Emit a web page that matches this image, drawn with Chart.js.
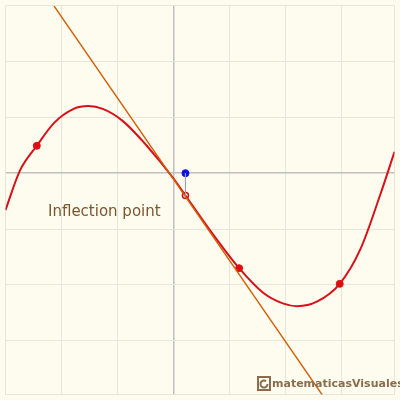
<!DOCTYPE html><html><head><script src="https://cdn.jsdelivr.net/npm/chart.js@4"></script>
<style>html,body{margin:0;background:#fdfcee}#w{width:400px;height:400px}</style></head><body><div id="w"><canvas id="c"></canvas></div>
<script>
const curveX=[-3.01,-2.75,-2.45,-2.14,-1.79,-1.53,-1.27,-0.92,-0.49,0,0.21,0.64,1.17,1.60,1.95,2.21,2.56,2.97,3.34,3.69,3.95];
const curveY=[-0.66,0.05,0.49,0.90,1.15,1.20,1.15,0.94,0.50,-0.10,-0.40,-1.01,-1.70,-2.14,-2.33,-2.38,-2.30,-1.98,-1.36,-0.40,0.38];
const tangentX=[-2.14,2.66], tangentY=[2.99,-3.97];
const redPtsX=[-2.45,1.17,2.97], redPtsY=[0.49,-1.70,-1.98];
const inflX=[0.21], inflY=[-0.40];
const bluePtX=[0.21], bluePtY=[0];
const label="Inflection point";
const zip=(a,b)=>a.map((v,i)=>({x:v,y:b[i]}));
const txt={id:'txt',afterDraw(ch){const c=ch.ctx;c.save();
c.fillStyle='#7a5530';c.font='15px "DejaVu Sans"';c.textBaseline='middle';c.fillText(label,48,212);
c.fillStyle='#8a6d4f';c.font='bold 11px "DejaVu Sans"';c.fillText('matematicasVisuales',272,384);
c.strokeStyle='#8a6d4f';c.lineWidth=2;c.strokeRect(258,377,12,13);c.beginPath();c.arc(264,384,3.5,0,Math.PI*1.7);c.stroke();
c.restore();}};
const grid={drawTicks:false,color:c=>c.tick.value===0?'#c0c0c0':'#e6e6dc',lineWidth:c=>c.tick.value===0?1.5:1};
new Chart(document.getElementById('c'),{type:'scatter',plugins:[txt],data:{datasets:[
{data:zip(bluePtX,bluePtY).concat(zip(inflX,inflY)),showLine:true,borderColor:'#9aa0b8',borderWidth:1,pointRadius:0},
{data:zip(tangentX,tangentY),showLine:true,borderColor:'#d2600a',borderWidth:1.5,pointRadius:0},
{data:zip(curveX,curveY),showLine:true,tension:0.4,cubicInterpolationMode:'monotone',borderColor:'#d8101a',borderWidth:2,pointRadius:0},
{data:zip(redPtsX,redPtsY),pointRadius:3.5,pointBackgroundColor:'#e01010',pointBorderColor:'#e01010'},
{data:zip(inflX,inflY),pointRadius:3,pointBackgroundColor:'#ffffff',pointBorderColor:'#d01010',pointBorderWidth:1.5},
{data:zip(bluePtX,bluePtY),pointRadius:3.5,pointBackgroundColor:'#1010e0',pointBorderColor:'#1010e0'}
]},options:{animation:false,responsive:true,maintainAspectRatio:false,layout:{padding:0},
plugins:{legend:{display:false},tooltip:{enabled:false}},
scales:{x:{type:'linear',min:-3.01,max:3.95,afterFit(s){s.height=0;},ticks:{display:false,stepSize:1},border:{display:false},grid},
y:{type:'linear',min:-3.96,max:3.0,afterFit(s){s.width=0;},ticks:{display:false,stepSize:1},border:{display:false},grid}}}});
</script></body></html>
